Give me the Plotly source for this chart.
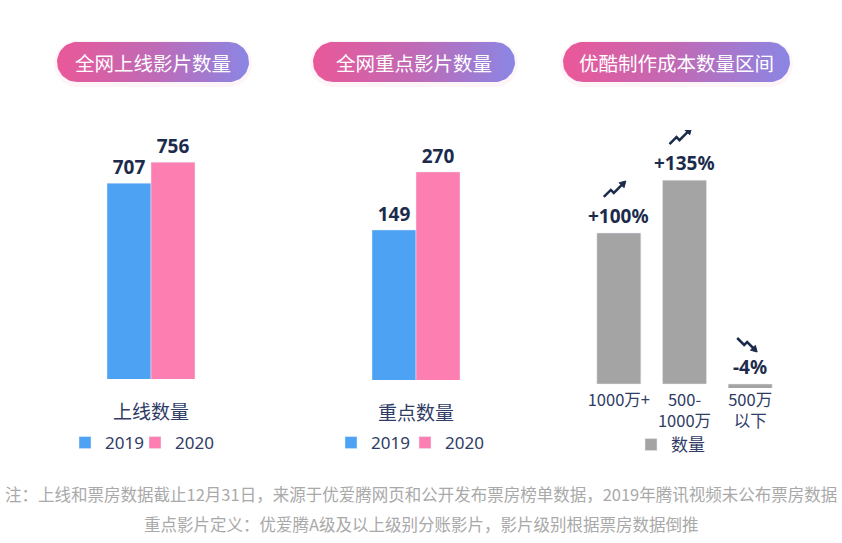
import numpy as np
import plotly.graph_objects as go

# ---------------- data ----------------
TITLES = ["全网上线影片数量", "全网重点影片数量", "优酷制作成本数量区间"]
SERIES_NAMES = ["2019", "2020"]
P1_CATEGORY = ["上线数量"]
P1_2019 = [707]
P1_2020 = [756]
P2_CATEGORY = ["重点数量"]
P2_2019 = [149]
P2_2020 = [270]
P3_CATEGORIES = ["1000万+", "500-<br>1000万", "500万<br>以下"]
P3_GROWTH = [100, 135, -4]
P3_LABELS = ["+100%", "+135%", "-4%"]
P3_SERIES = "数量"
NOTES = [
    "注：上线和票房数据截止12月31日，来源于优爱腾网页和公开发布票房榜单数据，2019年腾讯视频未公布票房数据",
    "重点影片定义：优爱腾A级及以上级别分账影片，影片级别根据票房数据倒推",
]

# ---------------- style ----------------
W, H = 842, 543
BLUE = "#4ea2f4"
PINK = "#fd7eb0"
GRAY = "#a4a4a4"
NAVY = "#1c2b4c"
LABEL = "#2f3c66"
NOTE = "#a9a9a9"
CJK = "Noto Sans CJK SC"
NUM = "Noto Sans, Noto Sans CJK SC"


def px_x(p):
    return p / W


def px_y(p):
    return 1 - p / H


fig = go.Figure()

VALUE_FONT = dict(size=19, color=NAVY, family=NUM, weight="bold")
# panel 1
fig.add_trace(go.Bar(x=P1_CATEGORY, y=P1_2019, name=SERIES_NAMES[0], marker_color=BLUE,
                     offset=-0.25, width=0.25, xaxis="x", yaxis="y", legend="legend",
                     text=P1_2019, textposition="outside", cliponaxis=False, textfont=VALUE_FONT))
fig.add_trace(go.Bar(x=P1_CATEGORY, y=P1_2020, name=SERIES_NAMES[1], marker_color=PINK,
                     offset=0, width=0.25, xaxis="x", yaxis="y", legend="legend4",
                     text=P1_2020, textposition="outside", cliponaxis=False, textfont=VALUE_FONT))
# panel 2
fig.add_trace(go.Bar(x=P2_CATEGORY, y=P2_2019, name=SERIES_NAMES[0], marker_color=BLUE,
                     offset=-0.25, width=0.25, xaxis="x2", yaxis="y2", legend="legend2",
                     text=P2_2019, textposition="outside", cliponaxis=False, textfont=VALUE_FONT))
fig.add_trace(go.Bar(x=P2_CATEGORY, y=P2_2020, name=SERIES_NAMES[1], marker_color=PINK,
                     offset=0, width=0.25, xaxis="x2", yaxis="y2", legend="legend5",
                     text=P2_2020, textposition="outside", cliponaxis=False, textfont=VALUE_FONT))
# panel 3
fig.add_trace(go.Bar(x=P3_CATEGORIES, y=P3_GROWTH, name=P3_SERIES, marker_color=GRAY,
                     width=0.67, xaxis="x3", yaxis="y3", legend="legend3"))


# title pills drawn on a full-figure pixel overlay axis
def stadium(x0, x1, yc, h, n=30):
    r = h / 2
    t = np.linspace(-np.pi / 2, np.pi / 2, n)
    right = np.c_[x1 - r + r * np.cos(t), yc + r * np.sin(t)]
    t2 = np.linspace(np.pi / 2, 3 * np.pi / 2, n)
    left = np.c_[x0 + r + r * np.cos(t2), yc + r * np.sin(t2)]
    pts = np.vstack([right, left, right[:1]])
    return pts[:, 0], pts[:, 1]


PILLS = [(57, 249), (313, 515), (563, 790)]
PILL_Y, PILL_H = 62, 40
for (x0, x1) in PILLS:
    gx, gy = stadium(x0 - 3, x1 + 3, PILL_Y + 2, PILL_H + 6)
    fig.add_trace(go.Scatter(x=gx, y=gy, mode="lines", fill="toself", line_width=0,
                             fillcolor="rgba(240,120,170,0.07)", hoverinfo="skip",
                             showlegend=False, xaxis="x4", yaxis="y4"))
    sx, sy = stadium(x0, x1, PILL_Y, PILL_H)
    fig.add_trace(go.Scatter(x=sx, y=sy, mode="lines", fill="toself", line_width=0,
                             fillgradient=dict(type="horizontal",
                                               colorscale=[[0, "#ea5898"], [0.5, "#c06ab6"], [1, "#8a86e4"]]),
                             hoverinfo="skip", showlegend=False, xaxis="x4", yaxis="y4"))

annotations = []
for (x0, x1), t in zip(PILLS, TITLES):
    annotations.append(dict(text=t, x=px_x((x0 + x1) / 2), y=px_y(PILL_Y), xref="paper", yref="paper",
                            xanchor="center", yanchor="middle",
                            showarrow=False, font=dict(size=19.5, color="white", family=CJK)))

# panel 3 growth labels + trend arrows
UP = [(-11, -7), (-4, 0), (-1, -3), (7, 5)]
UP_HEAD = [(11, 9), (4.3, 7.2), (9.2, 2.3)]
DOWN = [(-10, 7), (-3, 0), (0, 3), (7, -4)]
DOWN_HEAD = [(10, -7), (8.2, -0.3), (3.3, -5.2)]


def path(pts, dy, close=False):
    s = "M" + " L".join(f"{x},{y + dy}" for x, y in pts)
    return s + (" Z" if close else "")


shapes = []
for i, (v, lab) in enumerate(zip(P3_GROWTH, P3_LABELS)):
    top = max(v, 0)
    annotations.append(dict(text=lab, x=i, y=top, xref="x3", yref="y3", xanchor="center", yanchor="middle",
                            yshift=17, showarrow=False, font=VALUE_FONT))
    line_pts, head = (UP, UP_HEAD) if v >= 0 else (DOWN, DOWN_HEAD)
    dx = -4 if v >= 0 else -3
    dy = 43 if v >= 0 else 39
    line_pts = [(x + dx, y) for x, y in line_pts]
    head = [(x + dx, y) for x, y in head]
    common = dict(xref="x3", yref="y3", xsizemode="pixel", ysizemode="pixel", xanchor=i, yanchor=top)
    shapes.append(dict(type="path", path=path(line_pts, dy), line=dict(color=NAVY, width=2.5), **common))
    shapes.append(dict(type="path", path=path(head, dy, True), fillcolor=NAVY,
                       line=dict(color=NAVY, width=1), **common))

for t, yy in zip(NOTES, [494, 524]):
    annotations.append(dict(text=t, x=0.5, y=px_y(yy), xref="paper", yref="paper", showarrow=False,
                            xanchor="center", yanchor="middle",
                            font=dict(size=16.5, color=NOTE, family=CJK)))


def legend_at(xpx, ypx, family=NUM):
    return dict(orientation="h", x=px_x(xpx), y=px_y(ypx), xanchor="left", yanchor="middle",
                itemwidth=30, bgcolor="rgba(0,0,0,0)",
                font=dict(size=17, color=LABEL, family=family))


axis_common = dict(showgrid=False, zeroline=False, showline=False, ticks="")
fig.update_layout(
    width=W, height=H, margin=dict(l=0, r=0, t=0, b=0),
    paper_bgcolor="white", plot_bgcolor="rgba(0,0,0,0)",
    barmode="overlay", showlegend=True,
    xaxis=dict(domain=[px_x(63), px_x(239)], range=[-0.5, 0.5], anchor="y", ticklabelstandoff=20,
               tickfont=dict(size=19, color=LABEL, family=CJK), **axis_common),
    yaxis=dict(domain=[px_y(379), px_y(130)], range=[250, 831], anchor="x", visible=False),
    xaxis2=dict(domain=[px_x(328), px_x(504)], range=[-0.5, 0.5], anchor="y2", ticklabelstandoff=20,
                tickfont=dict(size=19, color=LABEL, family=CJK), **axis_common),
    yaxis2=dict(domain=[px_y(380), px_y(130)], type="log", range=[1.505, 2.618], anchor="x2", visible=False),
    xaxis3=dict(domain=[px_x(586), px_x(783)], range=[-0.5, 2.5], anchor="y3", ticklabelstandoff=0,
                tickfont=dict(size=16.5, color=LABEL, family=CJK), **axis_common),
    yaxis3=dict(domain=[px_y(388), px_y(130)], range=[-2.65, 168.2], anchor="x3", visible=False),
    xaxis4=dict(domain=[0, 1], range=[0, W], visible=False, fixedrange=True, anchor="y4"),
    yaxis4=dict(domain=[0, 1], range=[H, 0], visible=False, fixedrange=True, anchor="x4"),
    legend=legend_at(65, 443),
    legend4=legend_at(135, 443),
    legend2=legend_at(331, 443),
    legend5=legend_at(405, 443),
    legend3=legend_at(631, 445, CJK),
    annotations=annotations, shapes=shapes,
)

fig.write_html("out.html")
